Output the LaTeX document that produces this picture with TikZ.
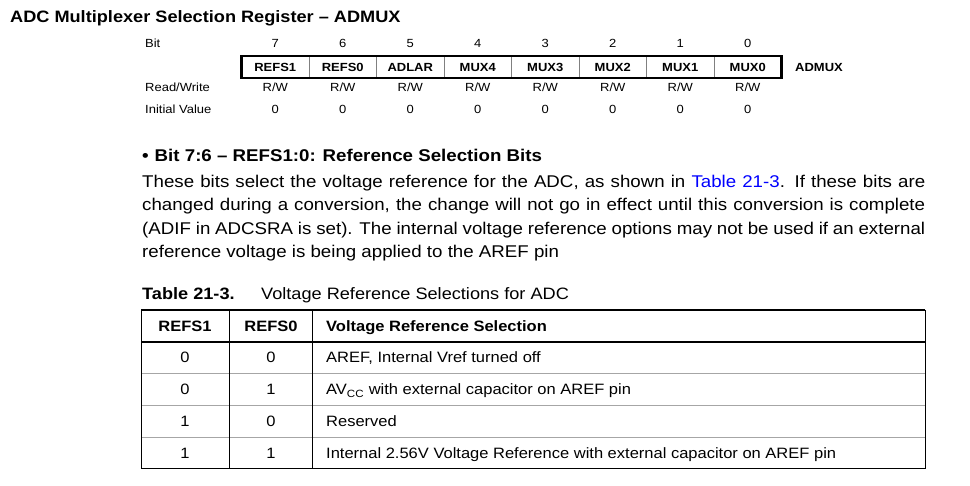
\documentclass[tikz,border=0pt]{standalone}
\usepackage{fontspec}
\setmainfont[FakeStretch=1.1]{Liberation Sans}
\begin{document}
\begin{tikzpicture}[x=1pt,y=-1pt,
  sm/.style={font=\fontsize{11.8}{13}\selectfont,inner sep=0pt,anchor=base},
  smb/.style={font=\fontsize{11.8}{13}\selectfont\bfseries,inner sep=0pt,anchor=base},
  para/.style={font=\fontsize{17}{19}\selectfont,inner sep=0pt,anchor=base west},
  tb/.style={font=\fontsize{15}{17}\selectfont,inner sep=0pt,anchor=base}]
\useasboundingbox (0,0) rectangle (970,486);
\node[font=\fontsize{16.5}{18}\selectfont\bfseries,inner sep=0pt,anchor=west] (title) at (10,18) {ADC Multiplexer Selection Register – ADMUX};
% register
\node[sm,anchor=base west] (bitl) at (145,48) {Bit};
\node[sm,anchor=base west] (rwl) at (145,92) {Read/Write};
\node[sm,anchor=base west] (ivl) at (145,114) {Initial Value};
\foreach \n/\b [count=\i from 0] in {REFS1/7,REFS0/6,ADLAR/5,MUX4/4,MUX3/3,MUX2/2,MUX1/1,MUX0/0}{
  \pgfmathsetmacro{\xa}{241.5+67.5*\i}
  \pgfmathsetmacro{\xc}{\xa+33.75}
  \draw[gray,line width=0.8pt] (\xa,56) rectangle ++(67.5,22);
  \node[smb] (c\b) at (\xc,71.3) {\n};
  \node[sm] (b\b) at (\xc,48) {\b};
  \node[sm] (rw\b) at (\xc,92) {R/W};
  \node[sm] (iv\b) at (\xc,114) {0};
}
\draw[line width=2.2pt] (241.5,56) rectangle (781.5,78);
\node[smb,anchor=base west] (reg) at (795,71.3) {ADMUX};
% bullet
\node[font=\fontsize{17}{19}\selectfont\bfseries,inner sep=0pt,anchor=base west] (bul) at (142,162) {•\hspace{6pt}Bit 7:6 – REFS1:0: Reference Selection Bits};
\node[para] (p1) at (142,188) {\makebox[783pt][s]{These bits select the voltage reference for the ADC, as shown in \textcolor{blue}{Table 21-3}. If these bits are}};
\node[para] (p2) at (142,211) {\makebox[783pt][s]{changed during a conversion, the change will not go in effect until this conversion is complete}};
\node[para] (p3) at (142,235) {\makebox[783pt][s]{(ADIF in ADCSRA is set). The internal voltage reference options may not be used if an external}};
\node[para] (p4) at (142,258) {reference voltage is being applied to the AREF pin};
% table caption
\node[font=\fontsize{16.5}{18}\selectfont\bfseries,inner sep=0pt,anchor=base west] (cap1) at (142,300) {Table 21-3.};
\node[font=\fontsize{16.5}{18}\selectfont,inner sep=0pt,anchor=base west] (cap2) at (261,300) {Voltage Reference Selections for ADC};
% table
\draw[line width=1.8pt] (141,310) -- (925,310);
\draw[line width=1.2pt] (141,342) -- (925,342);
\draw[gray!70,line width=0.6pt] (141,373) -- (925,373) (141,405) -- (925,405) (141,437) -- (925,437);
\draw[line width=0.8pt] (141,468.5) -- (925,468.5);
\draw[line width=0.6pt] (141,310) -- (141,469) (925,310) -- (925,469) (229,310) -- (229,469) (312.5,310) -- (312.5,469);
\node[tb,font=\fontsize{15}{17}\selectfont\bfseries] (h1) at (185,332) {REFS1};
\node[tb,font=\fontsize{15}{17}\selectfont\bfseries] (h2) at (271,332) {REFS0};
\node[tb,font=\fontsize{15}{17}\selectfont\bfseries,anchor=base west] (h3) at (326,332) {Voltage Reference Selection};
\foreach \a/\b/\t [count=\i from 0] in {0/0/{AREF, Internal Vref turned off},0/1/{AV\textsubscript{CC} with external capacitor on AREF pin},1/0/Reserved,1/1/{Internal 2.56V Voltage Reference with external capacitor on AREF pin}}{
  \pgfmathsetmacro{\yy}{363+31.7*\i}
  \node[tb] (ra\i) at (185,\yy) {\a};
  \node[tb] (rb\i) at (271,\yy) {\b};
  \node[tb,anchor=base west] (rc\i) at (326,\yy) {\t};
}
\end{tikzpicture}
\end{document}
